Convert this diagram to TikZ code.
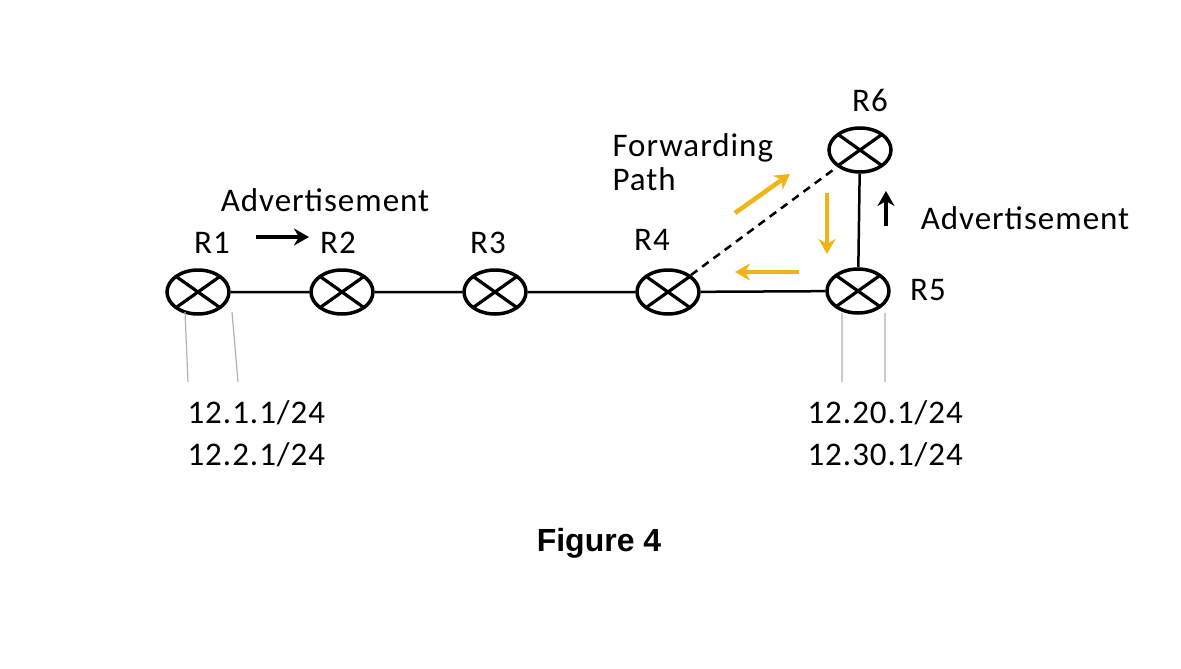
\documentclass[tikz,border=0pt]{standalone}
\usepackage{fontspec}
\setmainfont{Carlito}[LetterSpace=3]
\newfontfamily\figfont{Liberation Sans}
\usetikzlibrary{shapes.geometric,arrows.meta}
\definecolor{ylw}{RGB}{240,180,20}
\begin{document}
\begin{tikzpicture}[x=1pt,y=-1pt,
  router/.style={ellipse,draw,line width=3.5pt,minimum width=62pt,minimum height=44pt,inner sep=0pt,
    path picture={\draw[line width=3.2pt] (path picture bounding box.north west)--(path picture bounding box.south east)
      (path picture bounding box.north east)--(path picture bounding box.south west);}},
  lbl/.style={font=\fontsize{33}{38}\selectfont},
  link/.style={line width=2.5pt},
  ya/.style={ylw,line width=4.5pt,-{Stealth[length=15pt,width=17pt]}},
  ba/.style={black,line width=4.5pt,-{Stealth[length=15pt,width=17pt]}},
  gl/.style={gray!60,line width=1.2pt}]
\useasboundingbox (0,0) rectangle (1181,669);
\node[router] (r1) at (198,292) {};
\node[router] (r2) at (342,292) {};
\node[router] (r3) at (495,292) {};
\node[router] (r4) at (668,292) {};
\node[router] (r5) at (858,291) {};
\node[router] (r6) at (860,150) {};
\draw[link] (r1)--(r2) (r2)--(r3) (r3)--(r4) (r4)--(r5) (r5)--(r6);
\draw[link,dashed,dash pattern=on 8pt off 6pt] (r4)--(r6);
\node[lbl] (l1) at (212,243) {R1};
\node[lbl] (l2) at (338,243) {R2};
\node[lbl] (l3) at (488,243) {R3};
\node[lbl] (l4) at (652,240) {R4};
\node[lbl] (l6) at (870,100) {R6};
\node[lbl] (l5) at (928,290) {R5};
\node[lbl] (adv1) at (325,200) {Advertisement};
\node[lbl] (adv2) at (1025,218) {Advertisement};
\node[lbl,align=left,anchor=north west] (fp) at (609,130) {Forwarding\\[-4pt]Path};
\coordinate (a1) at (256,237); \coordinate (a2) at (309,237);
\draw[ba] (a1)--(a2);
\coordinate (b1) at (886,226); \coordinate (b2) at (886,191);
\draw[ba] (b1)--(b2);
\coordinate (y1) at (735,213); \coordinate (y2) at (790,174);
\coordinate (y3) at (827,193); \coordinate (y4) at (827,254);
\coordinate (y5) at (799,272); \coordinate (y6) at (735,272);
\draw[ya] (y1)--(y2); \draw[ya] (y3)--(y4); \draw[ya] (y5)--(y6);
\coordinate (g1) at (185,312); \coordinate (g2) at (188,382);
\coordinate (g3) at (232,312); \coordinate (g4) at (238,382);
\coordinate (g5) at (842,313); \coordinate (g6) at (842,382);
\coordinate (g7) at (885,313); \coordinate (g8) at (885,382);
\draw[gl] (g1)--(g2) (g3)--(g4) (g5)--(g6) (g7)--(g8);
\node[lbl,anchor=west] (p1) at (184,413) {12.1.1/24};
\node[lbl,anchor=west] (p2) at (184,455) {12.2.1/24};
\node[lbl,anchor=west] (p3) at (804,413) {12.20.1/24};
\node[lbl,anchor=west] (p4) at (804,455) {12.30.1/24};
\node[font=\figfont\bfseries\fontsize{32}{36}\selectfont] (fig) at (599,543) {Figure 4};
\end{tikzpicture}
\end{document}
